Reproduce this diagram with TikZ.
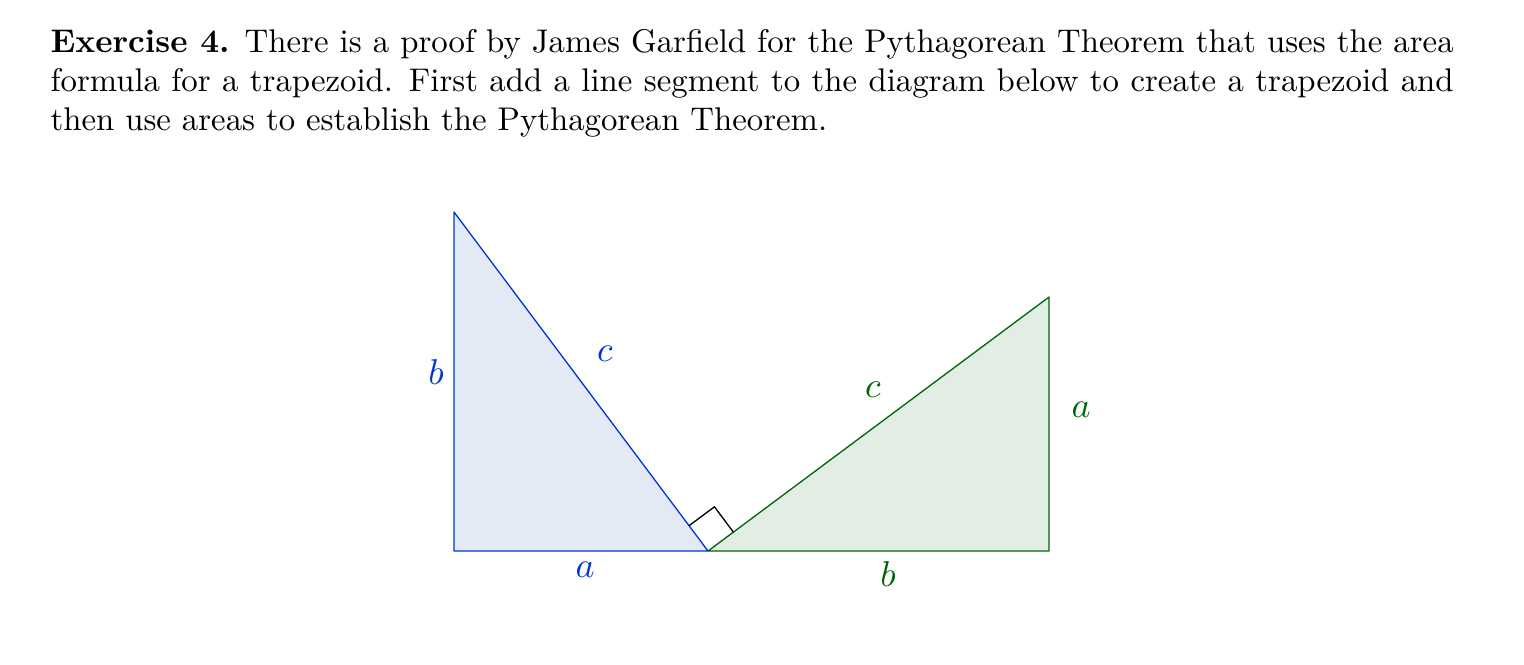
\documentclass[tikz,border=0pt]{standalone}
\usetikzlibrary{calc}
\definecolor{bluel}{RGB}{0,55,210}
\definecolor{bluef}{RGB}{228,233,246}
\definecolor{greenl}{RGB}{0,100,10}
\definecolor{greenf}{RGB}{226,238,227}
\tikzset{
  edge/.style={line width=0.4pt, line join=round},
  lab/.style={inner sep=0pt, font=\fontsize{10.5}{12}\selectfont},
  mark90/.style={line width=0.4pt, draw=black},
}
\begin{document}
\begin{tikzpicture}[x=0.305pt,y=-0.305pt]
\useasboundingbox (0,0) rectangle (1524,664);
% text
\node[anchor=base west, inner sep=0pt, text width=1403*0.305pt, align=justify,
      font=\fontsize{10}{12}\selectfont] (txt) at (50,52)
 {\textbf{Exercise 4.} There is a proof by James Garfield for the Pythagorean Theorem that uses the area\linebreak
 formula for a trapezoid. First add a line segment to the diagram below to create a trapezoid and\linebreak
 then use areas to establish the Pythagorean Theorem.};
% vertices
\coordinate (P) at (454,551);
\coordinate (Q) at (454,212);
\coordinate (R) at (708,551);
\coordinate (S) at (1049,551);
\coordinate (T) at (1049,297);
% triangles
\filldraw[edge, draw=bluel, fill=bluef] (P) -- (Q) -- (R) -- cycle;
\filldraw[edge, draw=greenl, fill=greenf] (R) -- (S) -- (T) -- cycle;
% right-angle mark
\coordinate (M1) at ($(R)!0.0746!(Q)$);
\coordinate (M3) at ($(R)!0.0744!(T)$);
\coordinate (M2) at ($(M1)+(M3)-(R)$);
\draw[mark90] (M1) -- (M2) -- (M3);
% labels
\node[lab, text=bluel] (lb1) at (436,372) {$b$};
\node[lab, text=bluel] (lc1) at (605,354) {$c$};
\node[lab, text=bluel] (la1) at (585,570) {$a$};
\node[lab, text=greenl] (lc2) at (873,390) {$c$};
\node[lab, text=greenl] (la2) at (1081,410) {$a$};
\node[lab, text=greenl] (lb2) at (888,574) {$b$};
\end{tikzpicture}
\end{document}
